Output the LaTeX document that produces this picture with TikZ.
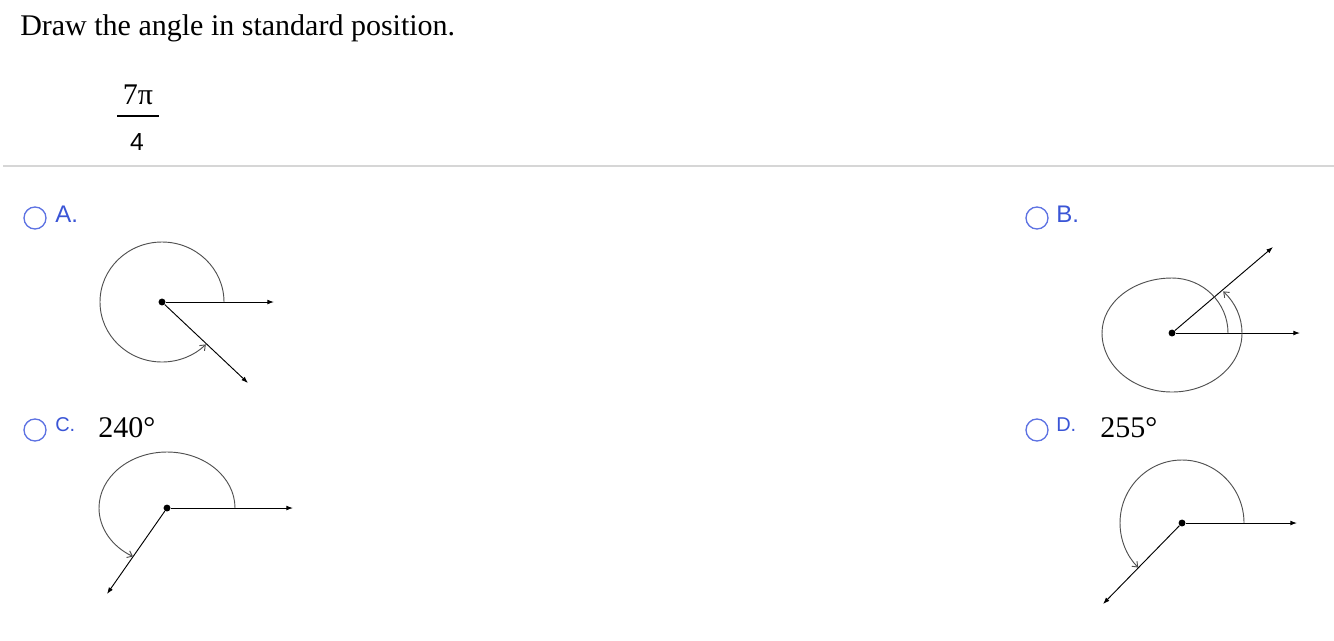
\documentclass[tikz,border=0pt]{standalone}
\usepackage{fontspec}
\setmainfont{Liberation Serif}
\setsansfont{Liberation Sans}
\usetikzlibrary{arrows.meta}
\definecolor{optblue}{HTML}{3A55D6}
\definecolor{radioblue}{HTML}{5D72E2}
\definecolor{rulegray}{HTML}{D6D6D6}
\definecolor{arcgray}{HTML}{505050}

\begin{document}
\begin{tikzpicture}[x=0.75pt,y=0.75pt,
  ray/.style={line width=0.7pt,-{Latex[length=5pt,width=3.6pt]}},
  turn/.style={arcgray,line width=0.7pt,-{Straight Barb[length=3.5pt,width=5.5pt]}},
  vertex/.style={circle,fill=black,inner sep=0pt,minimum size=5.2pt},
  radio/.style={circle,draw=radioblue,line width=1pt,inner sep=0pt,minimum size=16.5pt},
  optlabel/.style={text=optblue,font=\sffamily\fontsize{18}{20}\selectfont,inner sep=0pt,anchor=base west},
  smallopt/.style={optlabel,font=\sffamily\fontsize{15}{17}\selectfont},
  bigtext/.style={font=\fontsize{22.5}{27}\selectfont,inner sep=0pt}]

  \useasboundingbox (0,0) rectangle (1334,-640);

  % question
  \node[bigtext,anchor=base west] (title) at (20,-35) {Draw the angle in standard position.};
  \node[bigtext,anchor=base] (num) at (138,-104) {7π};
  \node[anchor=base,inner sep=0pt,font=\sffamily\fontsize{18.5}{20}\selectfont] (den) at (137,-150) {4};
  \coordinate (fl) at (117,-116);
  \coordinate (fr) at (159,-116);
  \draw[line width=0.8pt] (fl) -- (fr);
  \coordinate (rl) at (3,-166);
  \coordinate (rr) at (1334,-166);
  \draw[rulegray,line width=1.3pt] (rl) -- (rr);

  % A
  \node[radio] (ra) at (35,-218) {};
  \node[optlabel] (la) at (55,-222) {A.};
  \begin{scope}[shift={(162,-302)}]
    \node[vertex] (oa) at (0,0) {};
    \coordinate (xa) at (112,0);
    \coordinate (ta) at (86,-81);
    \draw[ray] (oa) -- (xa);
    \draw[ray] (oa) -- (ta);
    \draw[turn] (62,0) arc[start angle=0,end angle=315,x radius=62,y radius=60];
  \end{scope}

  % B
  \node[radio] (rb) at (1037,-218) {};
  \node[optlabel] (lb) at (1056,-222) {B.};
  \begin{scope}[shift={(1172,-333)}]
    \node[vertex] (ob) at (0,0) {};
    \coordinate (xb) at (128,0);
    \coordinate (tb) at (101,86);
    \draw[ray] (ob) -- (xb);
    \draw[ray] (ob) -- (tb);
    \draw[turn] (56,0) arc[start angle=0,end angle=90,x radius=56,y radius=55]
      arc[start angle=90,end angle=180,x radius=70,y radius=55]
      arc[start angle=180,end angle=360,x radius=70,y radius=59]
      arc[start angle=0,end angle=43,x radius=70,y radius=61];
  \end{scope}

  % C
  \node[radio] (rc) at (35,-430) {};
  \node[smallopt] (lc) at (55,-431) {C.};
  \node[bigtext,anchor=base west] (vc) at (98,-437) {240°};
  \begin{scope}[shift={(167,-508)}]
    \node[vertex] (oc) at (0,0) {};
    \coordinate (xc) at (126,0);
    \coordinate (tc) at (-60,-86);
    \draw[ray] (oc) -- (xc);
    \draw[ray] (oc) -- (tc);
    \draw[turn] (68,0) arc[start angle=0,end angle=240,x radius=68,y radius=56];
  \end{scope}

  % D
  \node[radio] (rd) at (1037,-430) {};
  \node[smallopt] (ld) at (1056,-431) {D.};
  \node[bigtext,anchor=base west] (vd) at (1100,-437) {255°};
  \begin{scope}[shift={(1182,-523)}]
    \node[vertex] (od) at (0,0) {};
    \coordinate (xd) at (115,0);
    \coordinate (td) at (-79,-81);
    \draw[ray] (od) -- (xd);
    \draw[ray] (od) -- (td);
    \draw[turn] (62,0) arc[start angle=0,end angle=225,x radius=62,y radius=63];
  \end{scope}

\end{tikzpicture}
\end{document}
